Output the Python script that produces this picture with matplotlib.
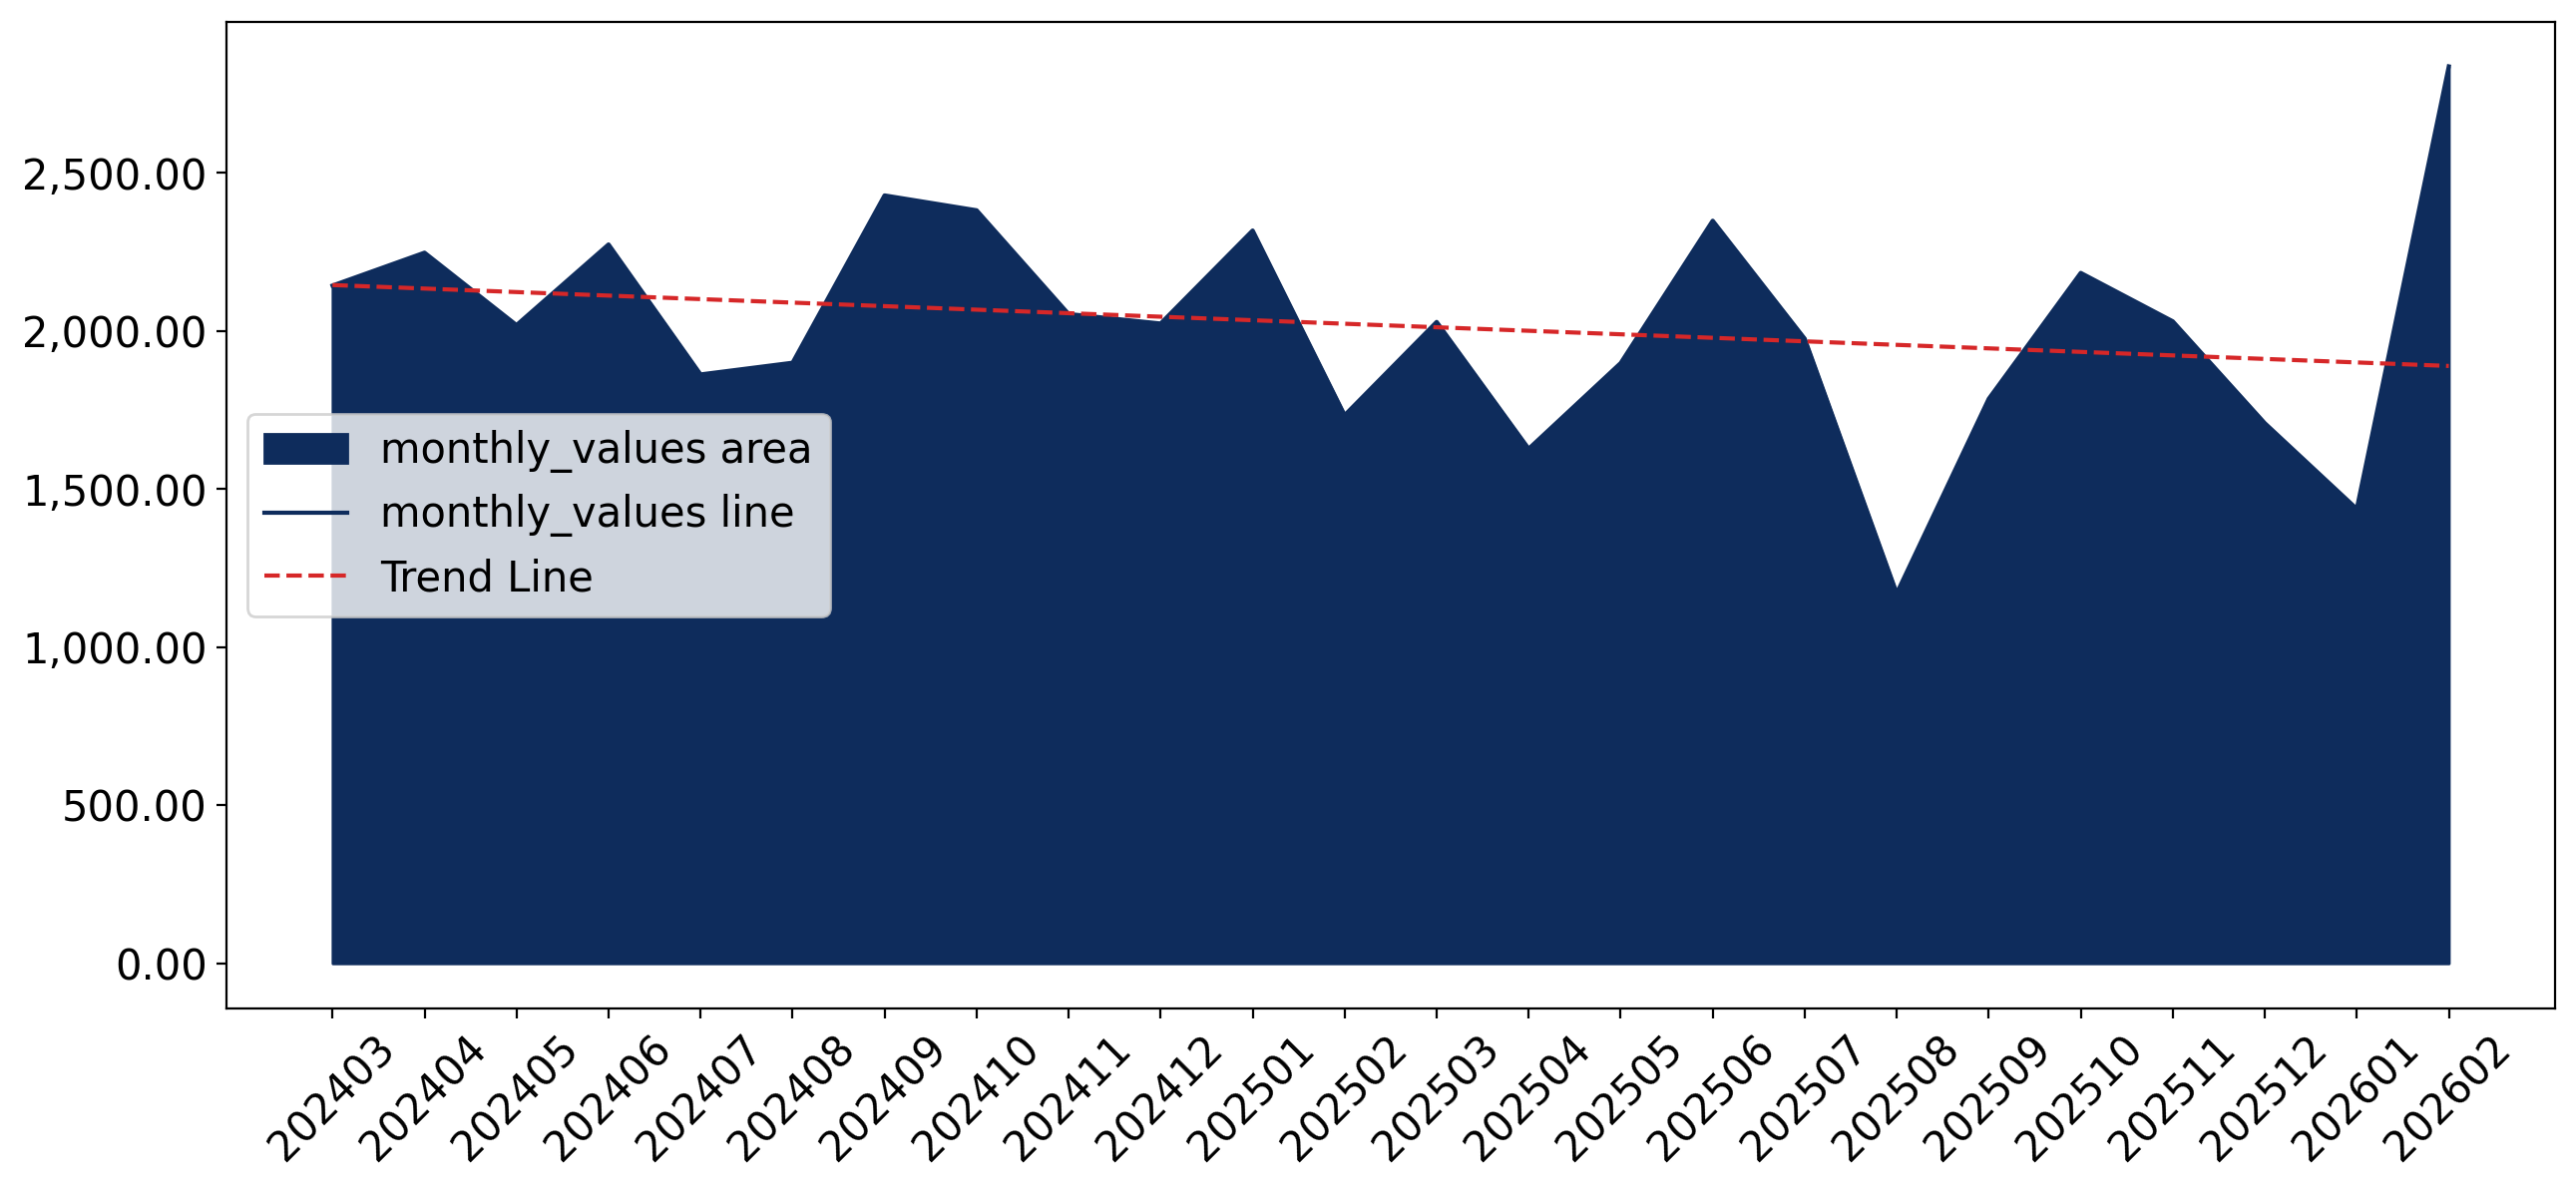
import numpy as np
import matplotlib
matplotlib.use("Agg")
import matplotlib.pyplot as plt
from matplotlib.ticker import FuncFormatter

months = ["202403", "202404", "202405", "202406", "202407", "202408", "202409",
          "202410", "202411", "202412", "202501", "202502", "202503", "202504",
          "202505", "202506", "202507", "202508", "202509", "202510", "202511",
          "202512", "202601", "202602"]
monthly_values = [2143, 2247, 2018, 2273, 1862, 1899, 2428, 2381, 2053, 2023,
                  2317, 1733, 2028, 1627, 1898, 2348, 1975, 1170, 1785, 2183,
                  2030, 1708, 1437, 2836]

navy = "#0e2c5c"
plt.rcParams['font.size'] = 15

x = np.arange(len(months))
y = np.array(monthly_values, dtype=float)

fig, ax = plt.subplots(figsize=(12.91, 5.995), dpi=200)
ax.fill_between(x, y, color=navy, label="monthly_values area")
ax.plot(x, y, color=navy, linewidth=1.5, label="monthly_values line")

# linear trend
slope, intercept = np.polyfit(x, y, 1)
ax.plot(x, slope * x + intercept, color="#d62728", linestyle="--",
        linewidth=1.5, label="Trend Line")

ax.set_xticks(x)
ax.set_xticklabels(months, rotation=45)
ax.yaxis.set_major_formatter(FuncFormatter(lambda v, p: f"{v:,.2f}"))
ax.legend(loc="center left")

fig.subplots_adjust(left=0.088, right=0.9917, top=0.982, bottom=0.157)
fig.savefig("out.png", dpi=200)
